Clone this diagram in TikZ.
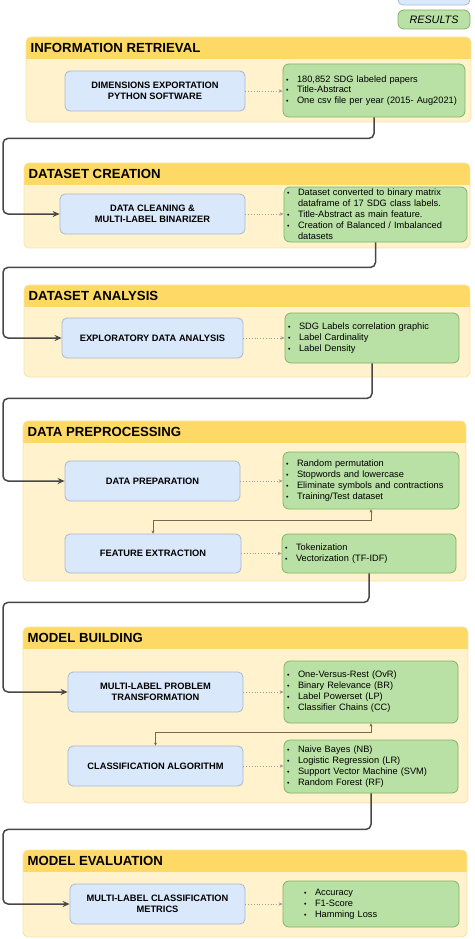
\documentclass[tikz,border=0pt]{standalone}
\usepackage{fontspec}
\setmainfont{Liberation Sans}
\usetikzlibrary{arrows.meta, positioning, calc}

\definecolor{stagefill}{HTML}{FFF2CC}
\definecolor{stageline}{HTML}{F8E3A3}
\definecolor{headfill}{HTML}{FFD966}
\definecolor{procfill}{HTML}{DAE8FC}
\definecolor{procline}{HTML}{A9B9CC}
\definecolor{resfill}{HTML}{B9E0A5}
\definecolor{resline}{HTML}{82B366}
\definecolor{flowline}{HTML}{474747}
\definecolor{stepline}{HTML}{6F6B55}
\definecolor{dotline}{HTML}{9A9A9A}

\newcommand{\bul}{\makebox[11pt][l]{\scriptsize\textbullet}}

\begin{document}
\begin{tikzpicture}[x=1pt, y=-1pt,
    process/.style={draw=procline, fill=procfill, rounded corners=5pt, line width=0.8pt,
      minimum width=178pt, minimum height=40pt, align=center,
      font=\fontsize{9.3}{11.5}\selectfont\bfseries},
    result/.style={draw=resline, fill=resfill, rounded corners=6pt, line width=0.8pt,
      align=left, inner xsep=3pt, inner ysep=0pt, font=\fontsize{9.25}{11}\selectfont},
    flow/.style={draw=flowline, line width=1.5pt, rounded corners=5pt,
      -{Stealth[length=7pt, width=6pt]}},
    outarrow/.style={draw=dotline, dotted, line width=0.8pt, -{Stealth[length=4pt, width=3.5pt]}},
    nextstep/.style={draw=stepline, line width=0.7pt, {Stealth[length=3pt, width=3pt]}-{Stealth[length=3pt, width=3pt]}},
    stagetitle/.style={anchor=west, inner sep=0pt, font=\fontsize{13.2}{14}\selectfont\bfseries}]
    \useasboundingbox (0,0) rectangle (474,939);
    \clip (0,0) rectangle (474,939);
    \def\head{22};

    % legend
    \node[process, minimum width=72pt, minimum height=20pt] (legproc) at (434,-5) {};
    \node[result, minimum width=72pt, minimum height=19pt, align=center,
      font=\fontsize{10.8}{11}\selectfont\itshape] (legres) at (434,19.5) {RESULTS};

    % stages
    \foreach \n/\xa/\ya/\xb/\yb/\ttl in {
        s1/26/37/471/122/INFORMATION RETRIEVAL,
        s2/24/163/470/248/DATASET CREATION,
        s3/24/285/470/377/DATASET ANALYSIS,
        s4/23/421/466/581/DATA PREPROCESSING,
        s5/23/627/468/803/MODEL BUILDING,
        s6/23/850/467/937/MODEL EVALUATION} {
      \begin{scope}
        \clip[rounded corners=5pt] (\xa,\ya) rectangle (\xb,\yb);
        \fill[stagefill] (\xa,\ya) rectangle (\xb,\yb);
        \fill[headfill] (\xa,\ya) rectangle (\xb,\ya+\head);
      \end{scope}
      \draw[stageline, line width=0.8pt, rounded corners=5pt] (\xa,\ya) rectangle (\xb,\yb);
      \node[stagetitle] (\n-title) at (\xa+4.5,\ya+\head/2) {\ttl};
    }

    % processes
    \node[process, minimum width=180pt] (p1) at (155,91) {DIMENSIONS EXPORTATION\\PYTHON SOFTWARE};
    \node[process, minimum width=185pt] (p2) at (152.5,214) {DATA CLEANING \&\\MULTI-LABEL BINARIZER};
    \node[process, minimum width=181pt] (p3) at (152.5,338) {EXPLORATORY DATA ANALYSIS};
    \node[process, minimum width=175pt] (p4a) at (152.5,481) {DATA PREPARATION};
    \node[process, minimum width=176pt, minimum height=39pt] (p4b) at (153,553.5) {FEATURE EXTRACTION};
    \node[process, minimum width=175pt] (p5a) at (155.5,692) {MULTI-LABEL PROBLEM\\TRANSFORMATION};
    \node[process, minimum width=175pt] (p5b) at (155.5,766) {CLASSIFICATION ALGORITHM};
    \node[process, minimum width=175pt] (p6) at (157.5,904) {MULTI-LABEL CLASSIFICATION\\METRICS};

    % results
    \node[result, minimum width=182pt, minimum height=53pt, text width=176pt,
      font=\fontsize{9.25}{10.5}\selectfont] (r1) at (374,90.5)
      {\bul 180,852 SDG labeled papers\\\bul Title-Abstract\\\bul One csv file per year (2015- Aug2021)};
    \node[result, minimum width=183pt, minimum height=55pt, text width=177pt] (r2) at (375.5,214.5)
      {\bul Dataset converted to binary matrix\\\hspace*{11pt}dataframe of 17 SDG class labels.\\
       \bul Title-Abstract as main feature.\\\bul Creation of Balanced / Imbalanced\\\hspace*{11pt}datasets};
    \node[result, minimum width=174pt, minimum height=50pt, text width=168pt] (r3) at (372,338)
      {\bul SDG Labels correlation graphic\\\bul Label Cardinality\\\bul Label Density};
    \node[result, minimum width=176pt, minimum height=57pt, text width=170pt] (r4a) at (371,480.5)
      {\bul Random permutation\\\bul Stopwords and lowercase\\\bul Eliminate symbols and contractions\\\bul Training/Test dataset};
    \node[result, minimum width=174pt, minimum height=39pt, text width=168pt] (r4b) at (369,553.5)
      {\bul Tokenization\\\bul Vectorization (TF-IDF)};
    \node[result, minimum width=174pt, minimum height=62pt, text width=168pt] (r5a) at (371,692)
      {\bul One-Versus-Rest (OvR)\\\bul Binary Relevance (BR)\\\bul Label Powerset (LP)\\\bul Classifier Chains (CC)};
    \node[result, minimum width=174pt, minimum height=53pt, text width=168pt] (r5b) at (371,766.5)
      {\bul Naive Bayes (NB)\\\bul Logistic Regression (LR)\\\bul Support Vector Machine (SVM)\\\bul Random Forest (RF)};
    \node[result, minimum width=176pt, minimum height=46pt, text width=134pt] (r6) at (371,904)
      {\bul Accuracy\\\bul F1-Score\\\bul Hamming Loss};

    % process -> result
    \foreach \k in {1,2,3,4a,4b,5a,5b,6}
      \draw[outarrow] (p\k.east) -- (p\k.east -| r\k.west);

    % inside a stage
    \draw[nextstep] (r4a.south) -- ++(0,11) -| (p4b.north);
    \draw[nextstep] (r5a.south) -- ++(0,9) -| (p5b.north);

    % between stages
    \coordinate (rail) at (3,0);
    \draw[flow] (r1.south) -- ++(0,21) coordinate (t1) -- (rail |- t1) -- (rail |- p2.west) -- (p2.west);
    \draw[flow] (r2.south) -- ++(0,25) coordinate (t2) -- (rail |- t2) -- (rail |- p3.west) -- (p3.west);
    \draw[flow] (r3.south) -- ++(0,35) coordinate (t3) -- (rail |- t3) -- (rail |- p4a.west) -- (p4a.west);
    \draw[flow] (r4b.south) -- ++(0,29) coordinate (t4) -- (rail |- t4) -- (rail |- p5a.west) -- (p5a.west);
    \draw[flow] (r5b.south) -- ++(0,36) coordinate (t5) -- (rail |- t5) -- (rail |- p6.west) -- (p6.west);
\end{tikzpicture}
\end{document}
